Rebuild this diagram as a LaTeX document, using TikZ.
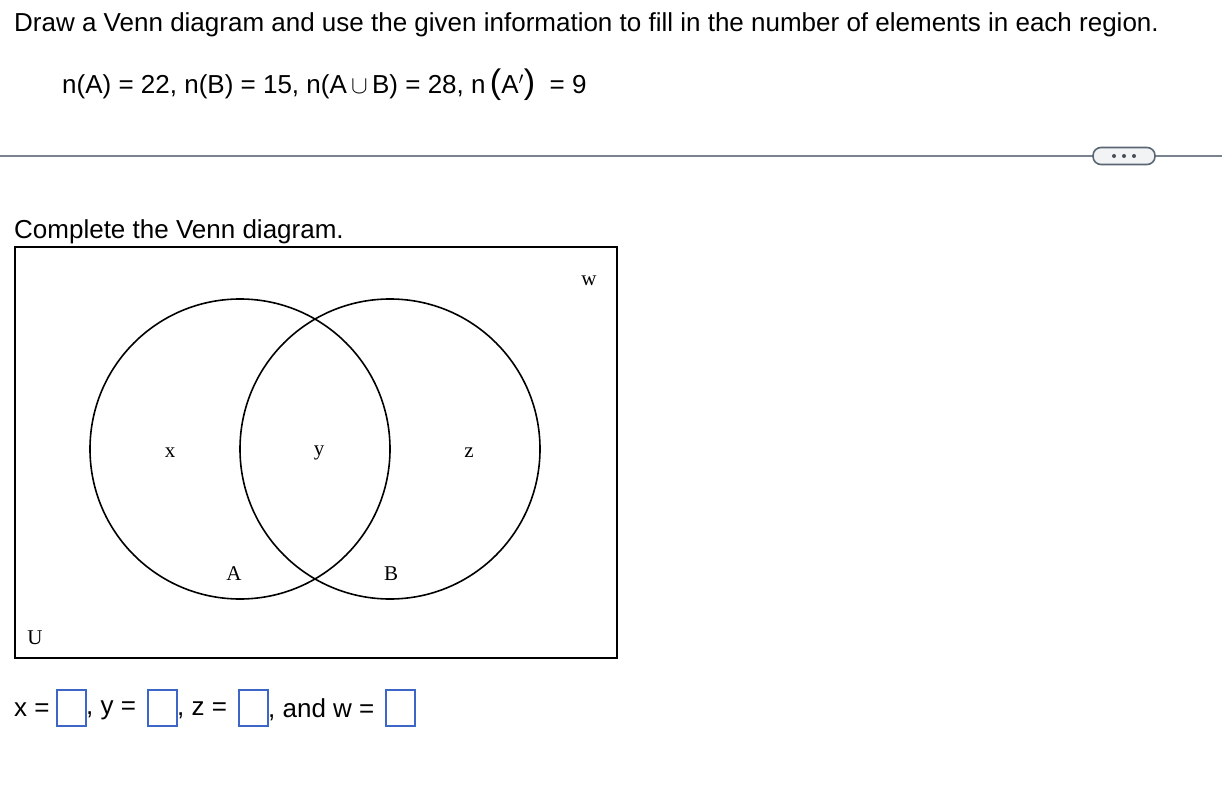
\documentclass[tikz,border=0pt]{standalone}
\usepackage{fontspec}
\setmainfont{Liberation Sans}
\newfontfamily\serifr{Liberation Serif}
\begin{document}
\begin{tikzpicture}[x=1pt,y=-1pt,
  txt/.style={inner sep=0pt,anchor=west,font=\fontsize{26}{30}\selectfont},
  lbl/.style={inner sep=0pt,font=\serifr\fontsize{21}{24}\selectfont},
  circ/.style={draw=black,line width=1.6pt},
  ansbox/.style={draw={rgb,255:red,61;green,102;blue,200},line width=2pt,minimum width=29pt,minimum height=36pt,inner sep=0pt}]
\useasboundingbox (0,0) rectangle (1222,794);
\node[txt] (t1) at (14,25) {Draw a Venn diagram and use the given information to fill in the number of elements in each region.};
\node[txt] (t2) at (62,85) {n(A) = 22, n(B) = 15, n(A\,$\cup$\,B) = 28, n\,{\fontsize{34}{34}\selectfont(}A$'${\fontsize{34}{34}\selectfont)}\ \ = 9};
\coordinate (l0) at (0,156);
\coordinate (l1) at (1222,156);
\draw[color={rgb,255:red,122;green,130;blue,144},line width=1.3pt] (l0) -- (l1);
\node[draw={rgb,255:red,90;green,102;blue,116},fill={rgb,255:red,242;green,243;blue,245},line width=1.6pt,rounded corners=8pt,minimum width=62pt,minimum height=17pt,inner sep=0pt] (dots) at (1124,156) {};
\foreach \dx in {-10,0,10} \fill[color={rgb,255:red,70;green,78;blue,88}] ([xshift=\dx pt]dots.center) circle (2pt);
\node[txt] (t3) at (14,232) {Complete the Venn diagram.};
\node[draw=black,line width=2pt,minimum width=602pt,minimum height=411pt,inner sep=0pt] (U) at (316,452.5) {};
\node[circ,circle,minimum size=300pt,inner sep=0pt] (A) at (240,449) {};
\node[circ,circle,minimum size=300pt,inner sep=0pt] (B) at (390,449) {};
\node[lbl] (x) at (170,453) {x};
\node[lbl] (y) at (319,453) {y};
\node[lbl] (z) at (469,453) {z};
\node[lbl] (la) at (234,574) {A};
\node[lbl] (lb) at (391,574) {B};
\node[lbl] (lu) at (35,638) {U};
\node[lbl] (w) at (589,281) {w};
\node[txt] (a1) at (14,710) {x =};
\node[ansbox] (b1) at (71,708) {};
\node[txt] (a2) at (86,710) {, y =};
\node[ansbox] (b2) at (162,708) {};
\node[txt] (a3) at (177,710) {, z =};
\node[ansbox] (b3) at (253,708) {};
\node[txt] (a4) at (268,710) {, and w =};
\node[ansbox] (b4) at (400,708) {};
\end{tikzpicture}
\end{document}
